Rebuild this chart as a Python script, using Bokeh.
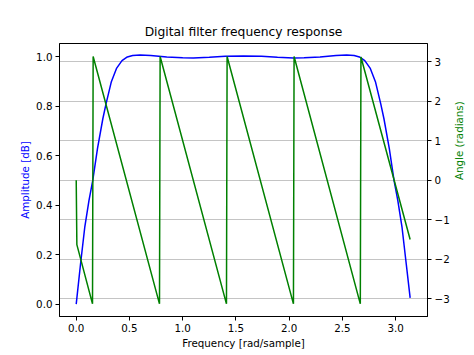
import math
from bokeh.plotting import figure
from bokeh.models import Range1d, LinearAxis, FixedTicker, Grid, CustomJSTickFormatter
from bokeh.embed import file_html
from bokeh.resources import INLINE

# Amplitude (linear magnitude)
freq_amp = [0.000, 0.040, 0.080, 0.120, 0.155, 0.200, 0.250, 0.280, 0.330, 0.380,
            0.430, 0.480, 0.530, 0.600, 0.700, 0.850, 1.000, 1.100, 1.250, 1.400,
            1.570, 1.740, 1.890, 2.040, 2.140, 2.290, 2.440, 2.540, 2.610, 2.660,
            2.710, 2.760, 2.810, 2.860, 2.890, 2.940, 2.985, 3.020, 3.060, 3.100, 3.136]
amplitude = [0.000, 0.160, 0.310, 0.420, 0.500, 0.630, 0.750, 0.810, 0.900, 0.955,
             0.985, 1.000, 1.006, 1.008, 1.006, 1.000, 0.997, 0.996, 0.999, 1.003,
             1.004, 1.003, 0.999, 0.996, 0.997, 1.000, 1.006, 1.008, 1.006, 1.000,
             0.985, 0.955, 0.900, 0.810, 0.750, 0.630, 0.500, 0.420, 0.310, 0.160, 0.025]

# Phase (wrapped angle)
freq_ang = [0.000, 0.006, 0.153, 0.159, 0.782, 0.788, 1.411, 1.417, 2.040, 2.046,
            2.668, 2.674, 3.136]
angle = [0.00, -1.63, -3.13, 3.13, -3.13, 3.13, -3.13, 3.13, -3.13, 3.13,
         -3.13, 3.12, -1.50]

x_ticks = [0.0, 0.5, 1.0, 1.5, 2.0, 2.5, 3.0]
amp_ticks = [0.0, 0.2, 0.4, 0.6, 0.8, 1.0]
ang_ticks = [-3, -2, -1, 0, 1, 2, 3]

FONT = "DejaVu Sans"

p = figure(width=474, height=355, output_backend="svg", toolbar_location=None,
           x_range=Range1d(-0.157, 3.299), y_range=Range1d(-0.0503, 1.0545),
           min_border_left=59, min_border_right=47, min_border_top=43, min_border_bottom=39,
           title="Digital filter frequency response")
p.extra_y_ranges = {"angle": Range1d(-3.45, 3.46)}

p.title.align = "center"
p.title.text_font = FONT
p.title.text_font_size = "12.3px"
p.title.text_font_style = "normal"
p.title.text_color = "black"

p.xgrid.visible = False
p.ygrid.visible = False
p.outline_line_color = "black"
p.outline_line_width = 1

fmt = CustomJSTickFormatter(code="return tick.toFixed(1);")

xa = p.xaxis[0]
xa.ticker = FixedTicker(ticks=x_ticks)
xa.formatter = fmt
xa.axis_label = "Frequency [rad/sample]"

ya = p.yaxis[0]
ya.ticker = FixedTicker(ticks=amp_ticks)
ya.formatter = fmt
ya.axis_label = "Amplitude [dB]"
ya.axis_label_text_color = "#0000ff"

ra = LinearAxis(y_range_name="angle", ticker=FixedTicker(ticks=ang_ticks),
                axis_label="Angle (radians)")
ra.axis_label_text_color = "#008000"
if "axis_label_orientation" in ra.properties():
    ra.axis_label_orientation = math.pi / 2
p.add_layout(ra, "right")

for ax in [xa, ya, ra]:
    ax.major_label_text_font = FONT
    ax.major_label_text_font_size = "10.3px"
    ax.major_label_text_color = "black"
    ax.axis_label_text_font = FONT
    ax.axis_label_text_font_size = "10.3px"
    ax.axis_label_text_font_style = "normal"
    ax.major_tick_in = 0
    ax.major_tick_out = 4
    ax.minor_tick_line_color = None
    ax.axis_line_color = "black"
    ax.major_tick_line_color = "black"
    ax.major_label_standoff = 3
xa.axis_label_text_color = "black"
xa.axis_label_standoff = 2
ya.axis_label_standoff = 2
ra.axis_label_standoff = 6

grid = Grid(dimension=1, ticker=FixedTicker(ticks=ang_ticks), y_range_name="angle",
            grid_line_color="#c4c4c4", grid_line_width=1)
p.add_layout(grid, "center")

p.line(freq_amp, amplitude, line_color="#0000ff", line_width=1.5)
p.line(freq_ang, angle, line_color="#008000", line_width=1.5, y_range_name="angle")

open("out.html", "w").write(file_html(p, INLINE))
